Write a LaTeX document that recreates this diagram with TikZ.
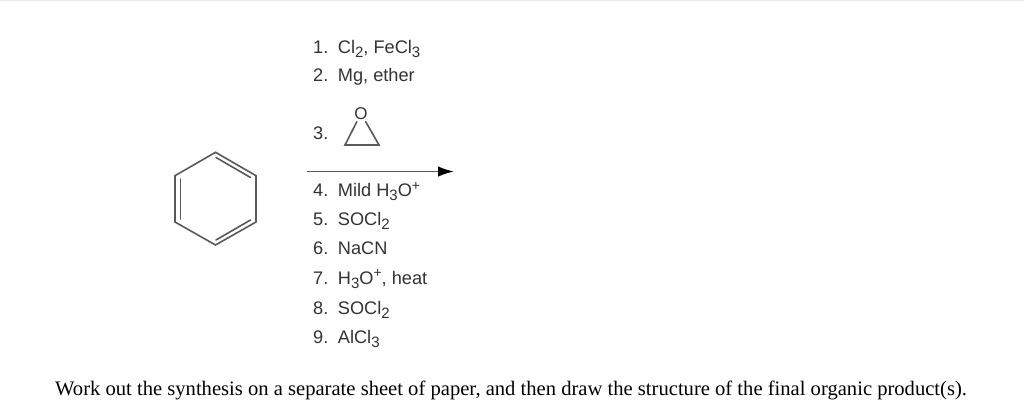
\documentclass[tikz,border=0pt]{standalone}
\usepackage{fontspec}
\setmainfont{Liberation Serif}
\newfontfamily\chemfont{Liberation Sans}
\usetikzlibrary{arrows.meta}
\definecolor{bondgray}{HTML}{5A5A5A}
\definecolor{txtgray}{HTML}{333333}
\tikzset{
  x=1pt,y=-1pt,
  bond/.style={draw=bondgray,line width=1.6pt,line cap=round},
  reagent/.style={font=\chemfont\fontsize{18.2}{20}\selectfont,text=txtgray,anchor=base west,inner sep=0pt},
  caption/.style={font=\fontsize{20.6}{24}\selectfont,text=black,anchor=base west,inner sep=0pt}
}
\newcommand{\chemsub}[1]{\raisebox{-4pt}{\fontsize{15}{16}\selectfont #1}}
\newcommand{\chemsup}[1]{\raisebox{6.5pt}{\fontsize{14}{15}\selectfont #1}}
\newcommand{\numgap}{\hspace{9.5pt}}
\begin{document}
\begin{tikzpicture}
\useasboundingbox (0,0) rectangle (1024,419);
\fill[white] (0,0) rectangle (1024,419);
\fill[black!8] (0,0) rectangle (1024,1);
% benzene
\coordinate (a) at (215.5,152.3);
\coordinate (b) at (256,175.7);
\coordinate (c) at (256,222);
\coordinate (d) at (215.5,245);
\coordinate (e) at (175,222);
\coordinate (f) at (175,175.7);
\draw[bond,line join=miter] (a)--(b)--(c)--(d)--(e)--(f)--cycle;
\coordinate (a1) at (216,157.5);
\coordinate (b1) at (250.5,177.5);
\coordinate (c1) at (250.5,220);
\coordinate (d1) at (216,240);
\coordinate (e1) at (180.5,219);
\coordinate (f1) at (180.5,179);
\draw[bond] (a1)--(b1);
\draw[bond] (c1)--(d1);
\draw[bond] (e1)--(f1);
% arrow
\coordinate (s) at (307,171.5);
\coordinate (t) at (454,171.5);
\draw[draw=bondgray,line width=1.8pt,-{Latex[length=16pt,width=10.5pt,black]}] (s)--(t);
% epoxide
\node[font=\chemfont\fontsize{17}{18}\selectfont,text=txtgray,inner sep=2pt] (ox) at (361,113.5) {O};
\coordinate (p) at (345,145);
\coordinate (q) at (379,145);
\draw[bond] (ox)--(p)--(q)--(ox);
% reagents
\node[reagent] (r1) at (313,53.5) {1.\numgap Cl\chemsub{2}, FeCl\chemsub{3}};
\node[reagent] (r2) at (313,81.5) {2.\numgap Mg, ether};
\node[reagent] (r3) at (313,139.5) {3.};
\node[reagent] (r4) at (313,197) {4.\numgap Mild H\chemsub{3}O\chemsup{+}};
\node[reagent] (r5) at (313,226) {5.\numgap SOCl\chemsub{2}};
\node[reagent] (r6) at (313,255) {6.\numgap NaCN};
\node[reagent] (r7) at (313,284) {7.\numgap H\chemsub{3}O\chemsup{+}, heat};
\node[reagent] (r8) at (313,314) {8.\numgap SOCl\chemsub{2}};
\node[reagent] (r9) at (313,343) {9.\numgap AlCl\chemsub{3}};
% caption
\node[caption] (cap) at (55,395) {Work out the synthesis on a separate sheet of paper, and then draw the structure of the final organic product(s).};
\end{tikzpicture}
\end{document}
